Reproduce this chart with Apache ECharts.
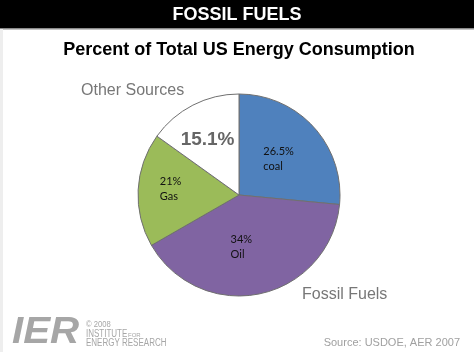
<!DOCTYPE html>
<html><head><meta charset="utf-8">
<script src="https://cdn.jsdelivr.net/npm/echarts@6/dist/echarts.min.js"></script>
<style>html,body{margin:0;padding:0;background:#fff}#c{width:474px;height:352px}</style>
</head><body><div id="c"></div>
<script>
// slice sizes as drawn in the picture (percent of the circle)
var categories = ['coal', 'Oil', 'Gas', 'Other Sources'];
var sliceValues = [26.5, 40.2, 18.2, 15.1];
// printed labels on the slices
var sliceLabels = ['26.5%\ncoal', '34%\nOil', '21%\nGas', '15.1%'];
var colors = ['#4F81BD', '#8064A2', '#9BBB59', '#FFFFFF'];

var chart = echarts.init(document.getElementById('c'), null, {renderer: 'canvas'});
var data = categories.map(function (c, i) {
  var txt = sliceLabels[i].split('\n').map(function (s) { return '{t|' + s + '}'; }).join('\n');
  var item = {name: c, value: sliceValues[i], itemStyle: {color: colors[i]}, label: {formatter: txt}};
  if (i === 3) {
    item.label.rich = {t: {color: '#666', fontSize: 19, fontWeight: 'bold', fontFamily: 'Liberation Sans, Arial, sans-serif', lineHeight: 20, align: 'left'}};
  }
  return item;
});
var sans = 'Liberation Sans, Arial, sans-serif';
chart.setOption({
  animation: false,
  backgroundColor: '#fff',
  graphic: [
    {type: 'rect', shape: {x: 0, y: 0, width: 474, height: 28}, style: {fill: '#000'}},
    {type: 'rect', shape: {x: 0, y: 28, width: 474, height: 1.5}, style: {fill: '#8a8a8a'}},
    {type: 'rect', shape: {x: 0, y: 29, width: 3, height: 323}, style: {fill: '#eeeeee'}},
    {type: 'text', x: 237, y: 15, style: {text: 'FOSSIL FUELS', fill: '#fff', font: 'bold 18px ' + sans, textAlign: 'center', textVerticalAlign: 'middle'}},
    {type: 'text', x: 239, y: 50, style: {text: 'Percent of Total US Energy Consumption', fill: '#000', font: 'bold 18px ' + sans, textAlign: 'center', textVerticalAlign: 'middle'}},
    {type: 'text', x: 81, y: 91, style: {text: 'Other Sources', fill: '#777', font: '16px ' + sans, textAlign: 'left', textVerticalAlign: 'middle'}},
    {type: 'text', x: 302, y: 295, style: {text: 'Fossil Fuels', fill: '#777', font: '16px ' + sans, textAlign: 'left', textVerticalAlign: 'middle'}},
    {type: 'text', x: 12, y: 333, scaleX: 1.12, style: {text: 'IER', fill: '#a6a6a6', font: 'italic bold 36px ' + sans, textAlign: 'left', textVerticalAlign: 'middle'}},
    {type: 'text', x: 86, y: 325, scaleX: 0.85, style: {text: '© 2008', fill: '#a6a6a6', font: '9px ' + sans, textAlign: 'left', textVerticalAlign: 'middle'}},
    {type: 'text', x: 86, y: 334, scaleX: 0.8, style: {text: 'INSTITUTE', fill: '#a6a6a6', font: '10px ' + sans, textAlign: 'left', textVerticalAlign: 'middle'}},
    {type: 'text', x: 128, y: 335, style: {text: 'FOR', fill: '#a6a6a6', font: '6px ' + sans, textAlign: 'left', textVerticalAlign: 'middle'}},
    {type: 'text', x: 86, y: 343, scaleX: 0.8, style: {text: 'ENERGY RESEARCH', fill: '#a6a6a6', font: '10px ' + sans, textAlign: 'left', textVerticalAlign: 'middle'}},
    {type: 'text', x: 460, y: 343, style: {text: 'Source: USDOE, AER 2007', fill: '#a0a0a0', font: '11px ' + sans, textAlign: 'right', textVerticalAlign: 'middle'}}
  ],
  series: [{
    type: 'pie',
    center: [239, 195],
    radius: 101,
    startAngle: 90,
    clockwise: true,
    itemStyle: {borderColor: '#707070', borderWidth: 1},
    label: {position: 'inside', rich: {t: {color: '#111', fontSize: 11, lineHeight: 15, fontFamily: 'Lato, Open Sans, sans-serif', align: 'left'}}},
    labelLine: {show: false},
    emphasis: {disabled: true},
    labelLayout: function (p) {
      var adj = [[0, 0], [-9, 0], [-15, -3], [-7, -8]];
      return {dx: adj[p.dataIndex][0], dy: adj[p.dataIndex][1]};
    },
    data: data
  }]
});
</script></body></html>
